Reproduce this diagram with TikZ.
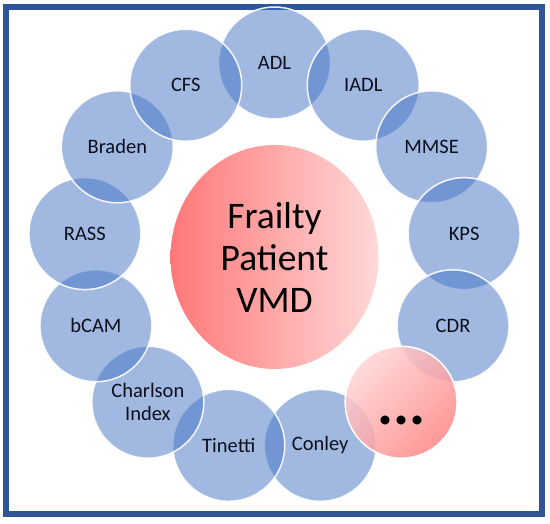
\documentclass[tikz,border=0pt]{standalone}
\usepackage{fontspec}
\setmainfont{Carlito}
\usetikzlibrary{shapes.geometric}

\definecolor{frameblue}{HTML}{2F5597}
\definecolor{ringblue}{HTML}{4472C4}
\definecolor{hubleft}{HTML}{FF7878}
\definecolor{hubright}{HTML}{FFD8D8}
\definecolor{morelight}{HTML}{FFD4D4}
\definecolor{moredark}{HTML}{FF8585}
\definecolor{labeltext}{HTML}{0C101C}

\begin{document}
\begin{tikzpicture}[x=1pt,y=1pt,
    ring/.style={circle, minimum size=112pt, inner sep=0pt, fill=ringblue,
        fill opacity=0.5, draw=white, draw opacity=0.9, line width=1.5pt,
        text opacity=1, text=labeltext, align=center,
        font=\fontsize{20.5}{23}\selectfont},
    hub/.style={ellipse, minimum width=208pt, minimum height=224pt, inner sep=0pt,
        left color=hubleft, right color=hubright, align=center,
        text=black, font=\fontsize{37.5}{42}\selectfont}]

        \useasboundingbox (0,0) rectangle (550,524);
        \draw[frameblue, line width=5.5pt] (6,10) rectangle (542,517);

        \coordinate (O) at (274.5,267);
        \node[hub] (hub) at (O) {Frailty\\Patient\\VMD};

        % ring, thirteen places clockwise from the top
        \foreach \k/\name/\txt in {0/adl/ADL, 1/iadl/IADL, 2/mmse/MMSE, 3/kps/KPS, 4/cdr/CDR, 6/conley/Conley}
            \node[ring] (\name) at ([shift={(90-\k*360/13:191 and 194)}]O) {\txt};

        \node[circle, minimum size=112pt, inner sep=0pt, draw=white, line width=1.5pt,
            top color=morelight, bottom color=moredark, shading angle=45,
            fill opacity=0.85] (more) at ([shift={(90-5*360/13:191 and 194)}]O) {};
        \node[anchor=base, font=\fontsize{60}{60}\selectfont\bfseries] (dots)
            at ([yshift=-22pt]more.center) {...};

        \foreach \k/\name/\txt in {7/tinetti/Tinetti, 8/charlson/{Charlson\\Index}, 9/bcam/bCAM, 10/rass/RASS, 11/braden/Braden, 12/cfs/CFS}
            \node[ring] (\name) at ([shift={(90-\k*360/13:191 and 194)}]O) {\txt};

\end{tikzpicture}
\end{document}
